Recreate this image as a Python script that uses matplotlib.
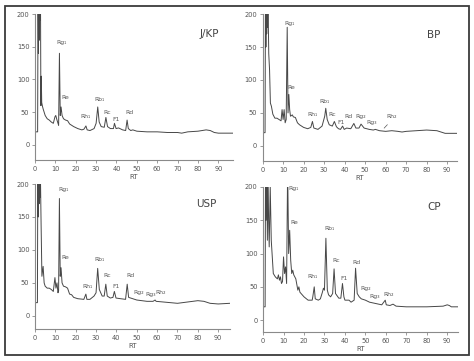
import matplotlib
matplotlib.use("Agg")
import matplotlib.pyplot as plt
from matplotlib.patches import Rectangle

# ── chromatogram traces (RT, signal) ─────────────────────────────────────
jkp_rt = [0, 1.3, 1.5, 1.7, 1.9, 2.1, 2.3, 2.5, 2.7, 2.9, 3.1, 3.3, 3.6, 4, 5, 6, 7, 8, 9,
          9.8, 10.2, 10.8, 11.3, 11.6, 12.0, 12.4, 12.8, 13.3, 14, 15, 16, 17, 19, 21, 23,
          24, 25, 25.6, 27, 29, 30, 30.8, 31.5, 32.5, 34, 34.8, 35.6, 37, 38.5, 39.0, 39.8,
          41, 43, 44.5, 45.2, 45.8, 47, 48, 50, 55, 60, 65, 70, 72, 75, 80, 84, 86, 88, 90, 97]
jkp_sig = [20, 20, 230, 140, 230, 160, 230, 190, 230, 60, 105, 65, 60, 55, 45, 40, 38, 35, 33,
           43, 45, 38, 33, 30, 140, 45, 58, 45, 40, 38, 37, 32, 28, 25, 23,
           24, 29, 23, 22, 25, 33, 58, 35, 28, 27, 42, 28, 25, 25, 33, 25,
           26, 23, 22, 38, 25, 22, 23, 21, 20, 20, 19, 19, 18, 20, 21, 23, 22, 19, 18, 18]

bp_rt = [0, 1.2, 1.4, 1.6, 1.8, 2.0, 2.2, 2.4, 2.6, 3.0, 3.4, 3.8, 4.3, 5, 6, 7, 8, 9, 9.5,
         10, 10.5, 11, 11.5, 12, 12.4, 12.8, 13.2, 13.6, 14.5, 15, 16, 17, 18, 20, 22, 23.5,
         24.3, 25, 27, 29, 30.3, 30.8, 31.5, 32.5, 34, 35, 36, 37, 38, 39, 39.8, 41, 43, 44.5,
         45.5, 47, 48, 49.5, 52, 54, 55, 57, 60, 63, 66, 68, 70, 75, 80, 85, 87, 89, 92, 95]
bp_sig = [20, 20, 230, 150, 230, 170, 230, 180, 230, 140, 115, 65, 60, 48, 42, 42, 40, 38, 55,
          40, 55, 35, 40, 180, 50, 78, 55, 45, 47, 44, 43, 35, 32, 28, 26, 28,
          37, 27, 25, 30, 45, 57, 40, 32, 30, 37, 29, 26, 25, 30, 25, 27, 26, 34,
          27, 27, 33, 27, 25, 24, 25, 23, 22, 23, 22, 21, 22, 23, 24, 23, 21, 19, 19, 19]

usp_rt = [0, 1.2, 1.4, 1.6, 1.8, 2.0, 2.2, 2.4, 2.6, 3.0, 3.4, 4, 4.5, 5, 6, 7, 8, 9, 9.8,
          10.3, 10.8, 11.3, 11.6, 12.0, 12.4, 12.8, 13.3, 14, 15, 16, 17, 18, 19, 21, 24,
          25, 25.5, 27, 29, 30, 30.8, 31.6, 33, 34, 34.8, 35.5, 37, 38.3, 39, 39.8, 42, 44.5,
          45.3, 46, 48, 50, 55, 58, 59, 59.5, 63, 70, 75, 80, 83, 86, 90, 95.7]
usp_sig = [20, 20, 230, 150, 230, 170, 230, 180, 230, 140, 60, 75, 50, 45, 42, 42, 40, 37, 58,
           42, 50, 35, 38, 178, 60, 73, 50, 45, 44, 42, 33, 32, 28, 26, 25,
           33, 25, 25, 30, 35, 72, 40, 30, 30, 48, 30, 27, 28, 37, 27, 26, 25,
           48, 28, 26, 24, 22, 22, 24, 22, 21, 19, 21, 23, 22, 19, 18, 19]

cp_rt = [0, 1.0, 1.2, 1.5, 1.8, 2.1, 2.4, 2.7, 3.0, 3.5, 4, 4.3, 5, 6, 7, 7.5, 8, 8.5, 9,
         9.5, 10, 10.5, 11, 11.5, 12, 12.5, 13, 13.5, 14, 14.5, 15, 16, 17, 17.5, 18, 20, 22,
         24, 24.3, 25, 25.5, 27, 28, 29, 29.5, 30, 30.7, 31.4, 32, 33, 34, 34.7, 35.4, 37, 38,
         38.8, 39.5, 40, 42, 43, 44.5, 45.2, 46, 47, 48, 50, 52, 55, 58, 59.7, 60.2, 62, 63.5,
         65, 70, 80, 88, 90, 91, 92, 95.2]
cp_sig = [20, 20, 230, 150, 230, 120, 230, 150, 110, 200, 120, 105, 70, 65, 62, 68, 60, 65, 55,
          58, 95, 70, 80, 55, 230, 100, 135, 90, 70, 75, 68, 62, 45, 50, 42, 35, 30,
          30, 35, 50, 32, 30, 32, 42, 48, 45, 123, 45, 38, 35, 40, 77, 40, 33, 33,
          55, 35, 30, 30, 27, 30, 78, 40, 35, 32, 30, 27, 25, 23, 30, 23, 22, 24,
          21, 20, 20, 21, 23, 22, 20, 20]

# peak labels: text, RT position, signal position
jkp_names = ["Rg\u2081", "Re", "Rh\u2081", "Rb\u2081", "Rc", "F1", "Rd"]
jkp_lx = [12.8, 14.8, 24.6, 31.6, 35.4, 40.0, 46.5]
jkp_ly = [156, 72, 43, 69, 50, 39, 49]

bp_names = ["Rg\u2081", "Re", "Rh\u2081", "Rb\u2081", "Rc", "F1", "Rd", "Rg\u2082", "Rg\u2083", "Rh\u2082"]
bp_lx = [13.1, 14.0, 24.3, 30.4, 34.1, 38.3, 42.0, 47.6, 53.3, 63.0]
bp_ly = [185, 88, 47, 67, 47, 35, 45, 44, 36, 44]

usp_names = bp_names
usp_lx = [13.8, 14.8, 25.6, 31.5, 35.5, 40.0, 46.8, 50.9, 56.7, 61.6]
usp_ly = [191, 88, 45, 85, 61, 45, 61, 36, 33, 35]

cp_names = bp_names
cp_lx = [15.0, 15.0, 24.3, 32.5, 35.9, 39.6, 45.6, 50.0, 54.4, 61.5]
cp_ly = [198, 146, 65, 137, 90, 63, 86, 47, 35, 39]

LINE = "#474747"
AXIS = "#8a8a8a"
TXT = "#555555"

fig = plt.figure(figsize=(4.74, 3.61), dpi=100)
fig.patch.set_facecolor("white")

panels = [
    ("J/KP", jkp_rt, jkp_sig, jkp_names, jkp_lx, jkp_ly, [0.0738, 0.5568, 0.417, 0.4044], 97, -23),
    ("BP", bp_rt, bp_sig, bp_names, bp_lx, bp_ly, [0.554, 0.554, 0.411, 0.407], 95, -23),
    ("USP", usp_rt, usp_sig, usp_names, usp_lx, usp_ly, [0.0738, 0.0886, 0.411, 0.4017], 95.7, -20),
    ("CP", cp_rt, cp_sig, cp_names, cp_lx, cp_ly, [0.555, 0.080, 0.411, 0.402], 95.2, -18),
]

for name, rt, sig, pnames, lx, ly, pos, xmax, ymin in panels:
    ax = fig.add_axes(pos)
    ax.plot(rt, sig, color=LINE, lw=0.7)
    ax.set_xlim(0, xmax)
    ax.set_ylim(ymin, 200)
    ax.set_xticks(range(0, 91, 10))
    ax.set_yticks([0, 50, 100, 150, 200])
    for s in ["top", "right"]:
        ax.spines[s].set_visible(False)
    for s in ["left", "bottom"]:
        ax.spines[s].set_color(AXIS)
        ax.spines[s].set_linewidth(0.8)
    ax.tick_params(length=2, width=0.6, colors=AXIS, labelcolor=TXT,
                   labelsize=4.8, pad=2)
    ax.set_xlabel("RT", fontsize=5, color=TXT, labelpad=2)
    for t, x, y in zip(pnames, lx, ly):
        ax.text(x, y, t, fontsize=4.3, color=TXT, ha="center", va="center")
    ax.text(0.88, 0.86, name, transform=ax.transAxes, fontsize=7.5,
            color="#444444", ha="center", va="center")
    if name == "BP":
        ax.plot([59.3, 60.8], [27, 32], color=TXT, lw=0.5)

# outer frame
fig.patches.append(Rectangle((5 / 474, 1 - 355 / 361), 464 / 474, 349 / 361,
                             transform=fig.transFigure, fill=False,
                             edgecolor="#3c3c3c", lw=1.3))

fig.savefig("out.png", dpi=100, facecolor="white")
